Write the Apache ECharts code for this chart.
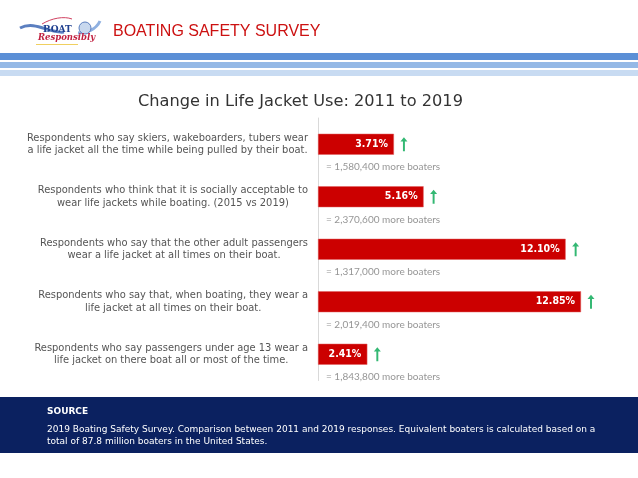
<!DOCTYPE html>
<html><head><meta charset="utf-8">
<script src="https://cdn.jsdelivr.net/npm/echarts@6/dist/echarts.min.js"></script>
<style>html,body{margin:0;padding:0;background:#fff}#c{width:638px;height:478px}</style>
</head><body><div id="c"></div>
<script>
const categories = [
  "Respondents who say skiers, wakeboarders, tubers wear\na life jacket all the time while being pulled by their boat.",
  "Respondents who think that it is socially acceptable to\nwear life jackets while boating. (2015 vs 2019)",
  "Respondents who say that the other adult passengers\nwear a life jacket at all times on their boat.",
  "Respondents who say that, when boating, they wear a\nlife jacket at all times on their boat.",
  "Respondents who say passengers under age 13 wear a\nlife jacket on there boat all or most of the time."
];
const changePct = [3.71, 5.16, 12.10, 12.85, 2.41];
const moreBoaters = ["1,580,400", "2,370,600", "1,317,000", "2,019,400", "1,843,800"];

const chart = echarts.init(document.getElementById('c'), null, {renderer: 'canvas'});
const arrowPath = 'path://M5,0 L10,6 L6.4,6 L6.4,20 L3.6,20 L3.6,6 L0,6 Z';

chart.setOption({
  animation: false,
  backgroundColor: '#ffffff',
  title: {
    text: 'Change in Life Jacket Use: 2011 to 2019',
    left: 133, top: 89,
    textStyle: {fontFamily: 'DejaVu Sans', fontSize: 16.2, fontWeight: 'normal', color: '#333333'}
  },
  grid: {left: 318, right: 13, top: 118, height: 262.5},
  xAxis: {type: 'value', min: 0, max: 15, show: false},
  yAxis: {
    type: 'category', inverse: true, data: categories,
    axisLine: {show: true, lineStyle: {color: '#d9d9d9', width: 1}},
    axisTick: {show: false},
    axisLabel: {
      margin: 10, align: 'right',
      formatter: function (v) { return v.split('\n').map(s => '{c|' + s + '}').join('\n'); },
      rich: {c: {align: 'center', fontFamily: 'DejaVu Sans Condensed', fontSize: 11, color: '#555555', lineHeight: 12.5}}
    }
  },
  series: [
    {
      type: 'bar', data: changePct, barWidth: 21,
      itemStyle: {color: '#cc0000', borderColor: '#e06060', borderWidth: 0.5},
      label: {
        show: true, position: 'insideRight', distance: 6,
        formatter: p => p.value.toFixed(2) + '%',
        color: '#ffffff', fontFamily: 'DejaVu Sans Condensed', fontWeight: 'bold', fontSize: 10.5
      }
    },
    {
      type: 'scatter', data: changePct.map((v, i) => [v, i]),
      symbol: arrowPath, symbolSize: [7, 14], symbolOffset: [10, 0],
      itemStyle: {color: '#00a650'}, silent: true, z: 5
    },
    {
      type: 'scatter', data: moreBoaters.map((v, i) => [0, i]),
      symbolSize: 0, silent: true,
      label: {
        show: true, position: 'right', offset: [3, 23],
        formatter: p => '= ' + moreBoaters[p.dataIndex] + ' more boaters',
        fontFamily: 'Lato', fontSize: 10, color: '#7a7a7a'
      }
    }
  ],
  graphic: [
    {type: 'rect', shape: {x: 0, y: 53, width: 638, height: 7}, style: {fill: '#5b8fd6'}},
    {type: 'rect', shape: {x: 0, y: 62, width: 638, height: 6}, style: {fill: '#95b9e6'}},
    {type: 'rect', shape: {x: 0, y: 70, width: 638, height: 6}, style: {fill: '#c8dbf2'}},
    {type: 'text', left: 113, top: 24, style: {text: 'BOATING SAFETY SURVEY', fontFamily: 'Liberation Sans', fontSize: 16, fill: '#cc1111'}},
    // logo approximation
    {type: 'bezierCurve', shape: {x1: 20, y1: 28, x2: 64, y2: 32, cpx1: 35, cpy1: 20, cpx2: 50, cpy2: 34}, style: {stroke: '#5b7fc0', lineWidth: 3}},
    {type: 'bezierCurve', shape: {x1: 42, y1: 24, x2: 72, y2: 19, cpx1: 52, cpy1: 18, cpx2: 64, cpy2: 16}, style: {stroke: '#d04060', lineWidth: 1}},
    {type: 'bezierCurve', shape: {x1: 78, y1: 33, x2: 100, y2: 21, cpx1: 86, cpy1: 33, cpx2: 96, cpy2: 30}, style: {stroke: '#8fb0e0', lineWidth: 3}},
    {type: 'circle', shape: {cx: 85, cy: 28, r: 6}, style: {fill: '#c8d8ee', stroke: '#5b7fc0', lineWidth: 1}},
    {type: 'text', left: 43, top: 25, style: {text: 'BOAT', fontFamily: 'DejaVu Serif', fontWeight: 'bold', fontSize: 9, fill: '#1f3f8f'}},
    {type: 'text', left: 38, top: 33, style: {text: 'Responsibly', fontFamily: 'DejaVu Serif', fontStyle: 'italic', fontWeight: 'bold', fontSize: 8.5, fill: '#c02040'}},
    {type: 'rect', shape: {x: 36, y: 44, width: 42, height: 1}, style: {fill: '#f0d060'}},
    // footer
    {type: 'rect', shape: {x: 0, y: 397, width: 638, height: 56}, style: {fill: '#0b2160'}},
    {type: 'text', left: 47, top: 407, style: {text: 'SOURCE', fontFamily: 'DejaVu Sans', fontWeight: 'bold', fontSize: 9, fill: '#ffffff'}},
    {type: 'text', left: 47, top: 423, style: {text: '2019 Boating Safety Survey. Comparison between 2011 and 2019 responses. Equivalent boaters is calculated based on a\ntotal of 87.8 million boaters in the United States.', fontFamily: 'DejaVu Sans', fontSize: 9, lineHeight: 12.5, fill: '#ffffff'}}
  ]
});
</script>
</body></html>
